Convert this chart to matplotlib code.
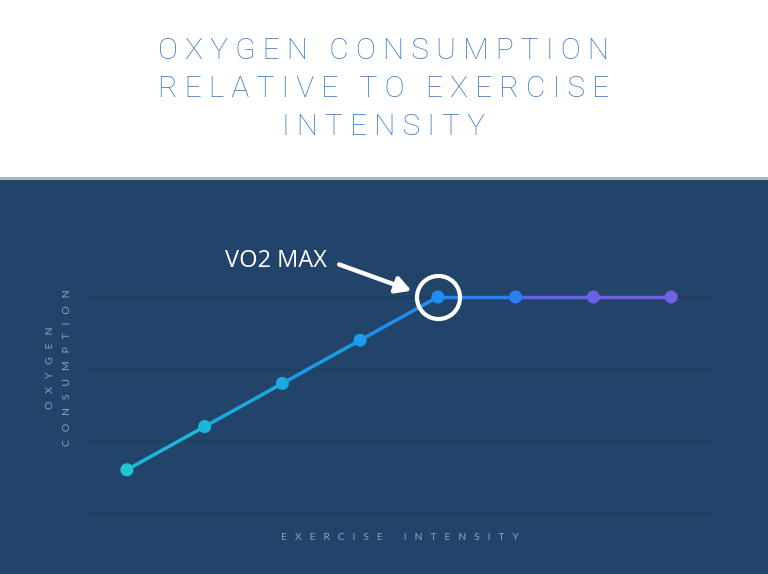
import numpy as np
import matplotlib.pyplot as plt
from matplotlib.collections import LineCollection
from matplotlib.patches import Rectangle

# data
intensity = [0, 1, 2, 3, 4, 5, 6, 7]
oxygen = [15, 30, 45, 60, 75, 75, 75, 75]
point_colors = ["#20c6d4", "#1cb8da", "#1aaae0", "#1a9ce8",
                "#1e8ef0", "#2a80f2", "#6a60e8", "#7460e4"]
grid_vals = [0, 25, 50, 75]
peak = 4

title = "OXYGEN CONSUMPTION\nRELATIVE TO EXERCISE\nINTENSITY"
xlab = "EXERCISE INTENSITY"
ylab = "OXYGEN\nCONSUMPTION"


def spaced(s, gap=" ", wgap="   "):
    return "\n".join(wgap.join(gap.join(w) for w in line.split(" "))
                     for line in s.split("\n"))


fig = plt.figure(figsize=(7.68, 5.74), dpi=100)
fig.patch.set_facecolor("white")
fig.patches.append(Rectangle((0, 0), 1, 1 - 178 / 574, transform=fig.transFigure,
                             facecolor="#22446a", edgecolor="none", zorder=-2))
fig.patches.append(Rectangle((0, 1 - 180 / 574), 1, 3 / 574, transform=fig.transFigure,
                             facecolor="#aab9c8", edgecolor="none", zorder=-1))

fig.text(0.5, 1 - 89 / 574, spaced(title, " ", "   "), ha="center",
         va="center", color="#3a78c6", fontsize=21.5, family="Roboto",
         fontweight="light", linespacing=1.47)

ax = fig.add_axes([88 / 768, 1 - 513 / 574, 622 / 768, 216 / 574])
ax.set_facecolor("none")
ax.set_xlim(-0.5, 7.5)
ax.set_ylim(0, 75)
for s in ax.spines.values():
    s.set_visible(False)
ax.set_xticks([])
ax.set_yticks([])
for g in grid_vals:
    ax.axhline(g, color="#1d3c5e", lw=1, zorder=1, clip_on=False)

# gradient line
pts = np.array([intensity, oxygen]).T
segs = np.stack([pts[:-1], pts[1:]], axis=1)
lc = LineCollection(segs, colors=point_colors[1:], linewidths=2.5, zorder=3)
lc.set_clip_on(False)
ax.add_collection(lc)
ax.scatter(intensity, oxygen, s=70, c=point_colors, zorder=4, clip_on=False)

# VO2 max highlight
ax.plot(intensity[peak], oxygen[peak], "o", ms=31, mfc="none", mec="white",
        mew=3, zorder=5, clip_on=False)
ax.text(1.26, 87.5, "VO2 MAX", color="white", fontsize=17,
        family="Open Sans", va="center", ha="left")
ax.annotate("", xy=(3.66, 77.2), xytext=(2.73, 86.3),
            arrowprops=dict(arrowstyle="-|>,head_length=0.9,head_width=0.5",
                            color="white", lw=3.2, shrinkA=0, shrinkB=0),
            annotation_clip=False)

fig.text(400 / 768, 1 - 538 / 574, spaced(xlab, "   ", "        "), ha="center",
         va="center", color="#8fa3b8", fontsize=7.5, family="Lato")
fig.text(59 / 768, 1 - 368 / 574, spaced(ylab, "   ", "    "), ha="center",
         va="center", rotation=90, color="#8fa3b8", fontsize=7.5, family="Lato",
         linespacing=2.1)

fig.savefig("out.png", dpi=100)
